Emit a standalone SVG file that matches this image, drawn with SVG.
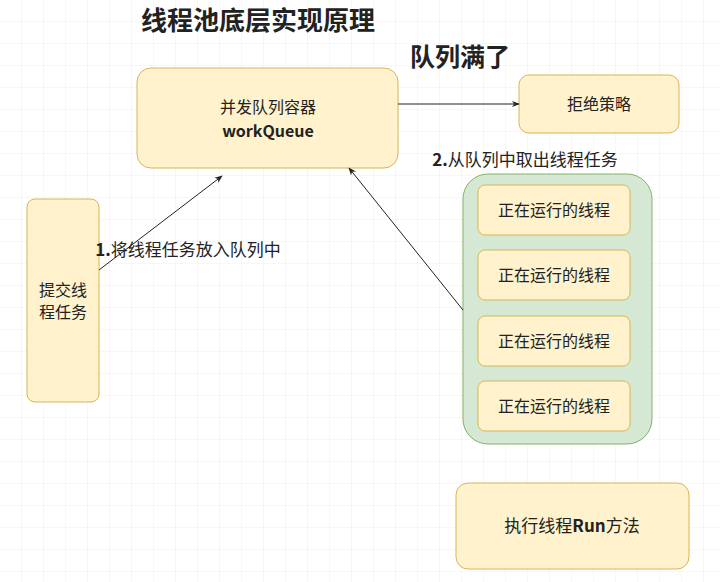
<svg xmlns="http://www.w3.org/2000/svg" width="720" height="582" viewBox="0 0 720 582">
<style>
.n{fill:#fff2cc;stroke:#d6b656;stroke-width:1}
.t{font-family:"Noto Sans CJK SC","Liberation Sans",sans-serif;fill:#222;text-anchor:middle}
.c{stroke:#222;stroke-width:1;fill:none;marker-end:url(#a)}
</style>
<defs>
<marker id="a" viewBox="0 0 10 10" refX="9" refY="5" markerWidth="8" markerHeight="8" orient="auto"><path d="M0,1 L10,5 L0,9 L3,5 Z" fill="#222"/></marker>
<pattern id="g" width="22" height="22" patternUnits="userSpaceOnUse"><path d="M22 0V22H0" fill="none" stroke="#eeeeee" stroke-width="1"/></pattern>
</defs>
<rect width="720" height="582" fill="#fff"/>
<rect width="720" height="582" fill="url(#g)"/>
<text class="t" x="258" y="30" font-size="26" font-weight="bold">线程池底层实现原理</text>
<text class="t" x="460" y="66" font-size="25" font-weight="bold">队列满了</text>
<g id="queue"><rect class="n" x="137" y="68" width="261" height="100" rx="14"/>
<text class="t" x="268" y="113" font-size="16">并发队列容器</text>
<text class="t" x="268" y="137" font-size="16" font-weight="bold">workQueue</text></g>
<g id="reject"><rect class="n" x="519" y="75" width="160" height="58" rx="10"/>
<text class="t" x="599" y="110" font-size="16">拒绝策略</text></g>
<g id="submit"><rect class="n" x="27" y="199" width="72" height="203" rx="8"/>
<text class="t" x="63" y="296" font-size="16">提交线</text><text class="t" x="63" y="318" font-size="16">程任务</text></g>
<g id="pool"><rect x="463" y="174" width="189" height="270" rx="25" fill="#d5e8d4" stroke="#82b366"/>
<rect class="n" x="478" y="185" width="152" height="50" rx="7"/><text class="t" x="554" y="216" font-size="16">正在运行的线程</text>
<rect class="n" x="478" y="250" width="152" height="50" rx="7"/><text class="t" x="554" y="281" font-size="16">正在运行的线程</text>
<rect class="n" x="478" y="316" width="152" height="50" rx="7"/><text class="t" x="554" y="347" font-size="16">正在运行的线程</text>
<rect class="n" x="478" y="381" width="152" height="50" rx="7"/><text class="t" x="554" y="412" font-size="16">正在运行的线程</text></g>
<g id="run"><rect class="n" x="456" y="483" width="233" height="86" rx="12"/>
<text class="t" x="572" y="532" font-size="17">执行线程<tspan font-weight="bold">Run</tspan>方法</text></g>
<g id="connectors">
<path class="c" d="M398 104H519"/>
<path class="c" d="M99 270L222 176"/>
<path class="c" d="M463 310L349 168"/>
</g>
<text class="t" x="188" y="256" font-size="17"><tspan font-weight="bold">1.</tspan>将线程任务放入队列中</text>
<text class="t" x="525" y="166" font-size="17"><tspan font-weight="bold">2.</tspan>从队列中取出线程任务</text>
</svg>
